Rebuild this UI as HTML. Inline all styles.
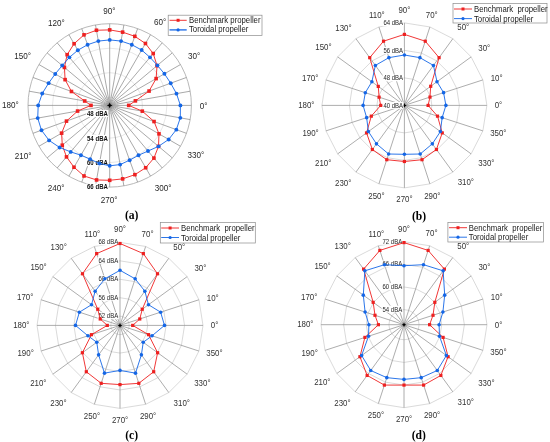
<!DOCTYPE html>
<html><head><meta charset="utf-8"><style>
html,body{margin:0;padding:0;background:#fff;width:550px;height:442px;overflow:hidden}
svg{display:block;font-family:"Liberation Sans",Arial,sans-serif}
</style></head><body>
<svg width="550" height="442" viewBox="0 0 550 442">
<rect width="550" height="442" fill="#fff"/>
<circle cx="109.7" cy="105.4" r="8.2" fill="none" stroke="#d8d8d8" stroke-width="0.6"/>
<circle cx="109.7" cy="105.4" r="32.7" fill="none" stroke="#dcdcdc" stroke-width="0.7"/>
<circle cx="109.7" cy="105.4" r="57.2" fill="none" stroke="#dcdcdc" stroke-width="0.7"/>
<circle cx="109.7" cy="105.4" r="81.7" fill="none" stroke="#a6a6a6" stroke-width="0.8"/>
<path d="M109.7 105.4L191.4 105.4M109.7 105.4L190.16 91.21M109.7 105.4L186.47 77.46M109.7 105.4L180.45 64.55M109.7 105.4L172.29 52.88M109.7 105.4L162.22 42.81M109.7 105.4L150.55 34.65M109.7 105.4L137.64 28.63M109.7 105.4L123.89 24.94M109.7 105.4L109.7 23.7M109.7 105.4L95.51 24.94M109.7 105.4L81.76 28.63M109.7 105.4L68.85 34.65M109.7 105.4L57.18 42.81M109.7 105.4L47.11 52.88M109.7 105.4L38.95 64.55M109.7 105.4L32.93 77.46M109.7 105.4L29.24 91.21M109.7 105.4L28 105.4M109.7 105.4L29.24 119.59M109.7 105.4L32.93 133.34M109.7 105.4L38.95 146.25M109.7 105.4L47.11 157.92M109.7 105.4L57.18 167.99M109.7 105.4L68.85 176.15M109.7 105.4L81.76 182.17M109.7 105.4L95.51 185.86M109.7 105.4L109.7 187.1M109.7 105.4L123.89 185.86M109.7 105.4L137.64 182.17M109.7 105.4L150.55 176.15M109.7 105.4L162.22 167.99M109.7 105.4L172.29 157.92M109.7 105.4L180.45 146.25M109.7 105.4L186.47 133.34M109.7 105.4L190.16 119.59" stroke="#8c8c8c" stroke-width="0.75" fill="none"/>
<path d="M109.7 102.6L110.6 104.5L112.5 105.4L110.6 106.3L109.7 108.2L108.8 106.3L106.9 105.4L108.8 104.5Z" fill="#000"/>
<rect x="86.2" y="110.1" width="22.2" height="7" fill="#fff"/>
<text x="107.9" y="115.88" text-anchor="end" font-size="6.9" font-weight="bold" fill="#111" textLength="20.9" lengthAdjust="spacingAndGlyphs">48 dBA</text>
<rect x="86.2" y="134.9" width="22.2" height="7" fill="#fff"/>
<text x="107.9" y="140.68" text-anchor="end" font-size="6.9" font-weight="bold" fill="#111" textLength="20.9" lengthAdjust="spacingAndGlyphs">54 dBA</text>
<rect x="86.2" y="159.2" width="22.2" height="7" fill="#fff"/>
<text x="107.9" y="164.98" text-anchor="end" font-size="6.9" font-weight="bold" fill="#111" textLength="20.9" lengthAdjust="spacingAndGlyphs">60 dBA</text>
<rect x="86.2" y="183.5" width="22.2" height="7" fill="#fff"/>
<text x="107.9" y="189.28" text-anchor="end" font-size="6.9" font-weight="bold" fill="#111" textLength="20.9" lengthAdjust="spacingAndGlyphs">66 dBA</text>
<path d="M128.7 105.4L135.4 100.87L149.07 91.07L156.12 78.6L157.04 65.68L153.22 53.54L145.45 43.48L134.84 36.33L122.62 32.13L109.7 29.9L96.45 30.26L84.01 34.83L74.1 43.74L67.15 54.69L64.43 67.41L65.1 79.65L71.45 91.48L84.69 100.99L91 105.4L77.6 111.06L66.47 121.13L61.64 133.15L62.28 145.19L66.5 156.88L74 167.23L84.01 175.97L96.55 179.95L109.7 180.3L122.65 178.87L134.91 174.66L145.7 167.75L153.92 158.1L158.5 146.35L158.98 133.85L154.05 121.54L142.3 111.15Z" fill="none" stroke="#ee2020" stroke-width="0.9" stroke-linejoin="round"/>
<rect x="126.9" y="103.6" width="3.6" height="3.6" fill="#ee2020"/>
<rect x="133.6" y="99.07" width="3.6" height="3.6" fill="#ee2020"/>
<rect x="147.27" y="89.27" width="3.6" height="3.6" fill="#ee2020"/>
<rect x="154.32" y="76.8" width="3.6" height="3.6" fill="#ee2020"/>
<rect x="155.24" y="63.88" width="3.6" height="3.6" fill="#ee2020"/>
<rect x="151.42" y="51.74" width="3.6" height="3.6" fill="#ee2020"/>
<rect x="143.65" y="41.68" width="3.6" height="3.6" fill="#ee2020"/>
<rect x="133.04" y="34.53" width="3.6" height="3.6" fill="#ee2020"/>
<rect x="120.82" y="30.33" width="3.6" height="3.6" fill="#ee2020"/>
<rect x="107.9" y="28.1" width="3.6" height="3.6" fill="#ee2020"/>
<rect x="94.65" y="28.46" width="3.6" height="3.6" fill="#ee2020"/>
<rect x="82.21" y="33.03" width="3.6" height="3.6" fill="#ee2020"/>
<rect x="72.3" y="41.94" width="3.6" height="3.6" fill="#ee2020"/>
<rect x="65.35" y="52.89" width="3.6" height="3.6" fill="#ee2020"/>
<rect x="62.63" y="65.61" width="3.6" height="3.6" fill="#ee2020"/>
<rect x="63.3" y="77.85" width="3.6" height="3.6" fill="#ee2020"/>
<rect x="69.65" y="89.68" width="3.6" height="3.6" fill="#ee2020"/>
<rect x="82.89" y="99.19" width="3.6" height="3.6" fill="#ee2020"/>
<rect x="89.2" y="103.6" width="3.6" height="3.6" fill="#ee2020"/>
<rect x="75.8" y="109.26" width="3.6" height="3.6" fill="#ee2020"/>
<rect x="64.67" y="119.33" width="3.6" height="3.6" fill="#ee2020"/>
<rect x="59.84" y="131.35" width="3.6" height="3.6" fill="#ee2020"/>
<rect x="60.48" y="143.39" width="3.6" height="3.6" fill="#ee2020"/>
<rect x="64.7" y="155.08" width="3.6" height="3.6" fill="#ee2020"/>
<rect x="72.2" y="165.43" width="3.6" height="3.6" fill="#ee2020"/>
<rect x="82.21" y="174.17" width="3.6" height="3.6" fill="#ee2020"/>
<rect x="94.75" y="178.15" width="3.6" height="3.6" fill="#ee2020"/>
<rect x="107.9" y="178.5" width="3.6" height="3.6" fill="#ee2020"/>
<rect x="120.85" y="177.07" width="3.6" height="3.6" fill="#ee2020"/>
<rect x="133.11" y="172.86" width="3.6" height="3.6" fill="#ee2020"/>
<rect x="143.9" y="165.95" width="3.6" height="3.6" fill="#ee2020"/>
<rect x="152.12" y="156.3" width="3.6" height="3.6" fill="#ee2020"/>
<rect x="156.7" y="144.55" width="3.6" height="3.6" fill="#ee2020"/>
<rect x="157.18" y="132.05" width="3.6" height="3.6" fill="#ee2020"/>
<rect x="152.25" y="119.74" width="3.6" height="3.6" fill="#ee2020"/>
<rect x="140.5" y="109.35" width="3.6" height="3.6" fill="#ee2020"/>
<path d="M180.4 105.4L176.47 93.63L170.69 83.2L164.43 73.8L157.42 65.35L150 57.37L141.65 50.06L131.79 44.7L121.04 41.09L109.7 39.9L98.36 41.09L87.61 44.7L77.85 50.23L69.4 57.37L62.21 65.55L55.23 73.95L48.62 83.17L42.24 93.51L38.2 105.4L37.71 118.09L41.48 130.23L49.08 140.4L59.6 147.44L70.68 151.9L80.95 155.2L90.14 159.15L99.45 163.5L109.7 165.8L120.14 164.59L129.64 160.18L138.5 155.28L148.01 151.06L158.5 146.35L168.68 139.45L176.32 129.65L180.31 117.85Z" fill="none" stroke="#1466e6" stroke-width="0.9" stroke-linejoin="round"/>
<circle cx="180.4" cy="105.4" r="1.95" fill="#1466e6"/>
<circle cx="176.47" cy="93.63" r="1.95" fill="#1466e6"/>
<circle cx="170.69" cy="83.2" r="1.95" fill="#1466e6"/>
<circle cx="164.43" cy="73.8" r="1.95" fill="#1466e6"/>
<circle cx="157.42" cy="65.35" r="1.95" fill="#1466e6"/>
<circle cx="150" cy="57.37" r="1.95" fill="#1466e6"/>
<circle cx="141.65" cy="50.06" r="1.95" fill="#1466e6"/>
<circle cx="131.79" cy="44.7" r="1.95" fill="#1466e6"/>
<circle cx="121.04" cy="41.09" r="1.95" fill="#1466e6"/>
<circle cx="109.7" cy="39.9" r="1.95" fill="#1466e6"/>
<circle cx="98.36" cy="41.09" r="1.95" fill="#1466e6"/>
<circle cx="87.61" cy="44.7" r="1.95" fill="#1466e6"/>
<circle cx="77.85" cy="50.23" r="1.95" fill="#1466e6"/>
<circle cx="69.4" cy="57.37" r="1.95" fill="#1466e6"/>
<circle cx="62.21" cy="65.55" r="1.95" fill="#1466e6"/>
<circle cx="55.23" cy="73.95" r="1.95" fill="#1466e6"/>
<circle cx="48.62" cy="83.17" r="1.95" fill="#1466e6"/>
<circle cx="42.24" cy="93.51" r="1.95" fill="#1466e6"/>
<circle cx="38.2" cy="105.4" r="1.95" fill="#1466e6"/>
<circle cx="37.71" cy="118.09" r="1.95" fill="#1466e6"/>
<circle cx="41.48" cy="130.23" r="1.95" fill="#1466e6"/>
<circle cx="49.08" cy="140.4" r="1.95" fill="#1466e6"/>
<circle cx="59.6" cy="147.44" r="1.95" fill="#1466e6"/>
<circle cx="70.68" cy="151.9" r="1.95" fill="#1466e6"/>
<circle cx="80.95" cy="155.2" r="1.95" fill="#1466e6"/>
<circle cx="90.14" cy="159.15" r="1.95" fill="#1466e6"/>
<circle cx="99.45" cy="163.5" r="1.95" fill="#1466e6"/>
<circle cx="109.7" cy="165.8" r="1.95" fill="#1466e6"/>
<circle cx="120.14" cy="164.59" r="1.95" fill="#1466e6"/>
<circle cx="129.64" cy="160.18" r="1.95" fill="#1466e6"/>
<circle cx="138.5" cy="155.28" r="1.95" fill="#1466e6"/>
<circle cx="148.01" cy="151.06" r="1.95" fill="#1466e6"/>
<circle cx="158.5" cy="146.35" r="1.95" fill="#1466e6"/>
<circle cx="168.68" cy="139.45" r="1.95" fill="#1466e6"/>
<circle cx="176.32" cy="129.65" r="1.95" fill="#1466e6"/>
<circle cx="180.31" cy="117.85" r="1.95" fill="#1466e6"/>
<text x="109.3" y="13.5" text-anchor="middle" font-size="8.9" fill="#262626" textLength="12.25" lengthAdjust="spacingAndGlyphs">90°</text>
<text x="160.2" y="25.3" text-anchor="middle" font-size="8.9" fill="#262626" textLength="12.25" lengthAdjust="spacingAndGlyphs">60°</text>
<text x="194" y="58.6" text-anchor="middle" font-size="8.9" fill="#262626" textLength="12.25" lengthAdjust="spacingAndGlyphs">30°</text>
<text x="203.6" y="108.6" text-anchor="middle" font-size="8.9" fill="#262626" textLength="7.74" lengthAdjust="spacingAndGlyphs">0°</text>
<text x="195.9" y="158.3" text-anchor="middle" font-size="8.9" fill="#262626" textLength="16.75" lengthAdjust="spacingAndGlyphs">330°</text>
<text x="163" y="191.3" text-anchor="middle" font-size="8.9" fill="#262626" textLength="16.75" lengthAdjust="spacingAndGlyphs">300°</text>
<text x="109" y="203.3" text-anchor="middle" font-size="8.9" fill="#262626" textLength="16.75" lengthAdjust="spacingAndGlyphs">270°</text>
<text x="56" y="191.3" text-anchor="middle" font-size="8.9" fill="#262626" textLength="16.75" lengthAdjust="spacingAndGlyphs">240°</text>
<text x="23.2" y="158.5" text-anchor="middle" font-size="8.9" fill="#262626" textLength="16.75" lengthAdjust="spacingAndGlyphs">210°</text>
<text x="10.4" y="108.3" text-anchor="middle" font-size="8.9" fill="#262626" textLength="16.75" lengthAdjust="spacingAndGlyphs">180°</text>
<text x="22.6" y="58.6" text-anchor="middle" font-size="8.9" fill="#262626" textLength="16.75" lengthAdjust="spacingAndGlyphs">150°</text>
<text x="56.4" y="25.6" text-anchor="middle" font-size="8.9" fill="#262626" textLength="16.75" lengthAdjust="spacingAndGlyphs">120°</text>
<rect x="168.2" y="15.2" width="93.8" height="20.4" fill="#fff" stroke="#8c8c8c" stroke-width="0.7"/>
<path d="M169.5 20.3H186.7" stroke="#ee2020" stroke-width="0.9"/>
<rect x="176.6" y="18.8" width="3" height="3" fill="#ee2020"/>
<path d="M169.5 29.9H186.7" stroke="#1466e6" stroke-width="1.3"/>
<circle cx="178.1" cy="29.9" r="1.6" fill="#1466e6"/>
<text x="189" y="22.79" font-size="9.0" fill="#1a1a1a" textLength="71.51" lengthAdjust="spacingAndGlyphs">Benchmark propeller</text>
<text x="189" y="32.39" font-size="9.0" fill="#1a1a1a" textLength="59.45" lengthAdjust="spacingAndGlyphs">Toroidal propeller</text>
<text x="131.7" y="218.9" text-anchor="middle" font-family="Liberation Serif, serif" font-weight="bold" font-size="11.6" fill="#000">(a)</text>
<polygon points="404.4,77.9 412.9,79.25 420.56,83.15 426.65,89.24 430.55,96.9 431.9,105.4 430.55,113.9 426.65,121.56 420.56,127.65 412.9,131.55 404.4,132.9 395.9,131.55 388.24,127.65 382.15,121.56 378.25,113.9 376.9,105.4 378.25,96.9 382.15,89.24 388.24,83.15 395.9,79.25" fill="none" stroke="#cdcdcd" stroke-width="0.75"/>
<polygon points="404.4,50.4 421.4,53.09 436.73,60.9 448.9,73.07 456.71,88.4 459.4,105.4 456.71,122.4 448.9,137.73 436.73,149.9 421.4,157.71 404.4,160.4 387.4,157.71 372.07,149.9 359.9,137.73 352.09,122.4 349.4,105.4 352.09,88.4 359.9,73.07 372.07,60.9 387.4,53.09" fill="none" stroke="#cdcdcd" stroke-width="0.75"/>
<polygon points="404.4,22.9 429.89,26.94 452.89,38.66 471.14,56.91 482.86,79.91 486.9,105.4 482.86,130.89 471.14,153.89 452.89,172.14 429.89,183.86 404.4,187.9 378.91,183.86 355.91,172.14 337.66,153.89 325.94,130.89 321.9,105.4 325.94,79.91 337.66,56.91 355.91,38.66 378.91,26.94" fill="none" stroke="#cdcdcd" stroke-width="0.75"/>
<path d="M404.4 105.4L404.4 22.9M404.4 105.4L429.89 26.94M404.4 105.4L452.89 38.66M404.4 105.4L471.14 56.91M404.4 105.4L482.86 79.91M404.4 105.4L486.9 105.4M404.4 105.4L482.86 130.89M404.4 105.4L471.14 153.89M404.4 105.4L452.89 172.14M404.4 105.4L429.89 183.86M404.4 105.4L404.4 187.9M404.4 105.4L378.91 183.86M404.4 105.4L355.91 172.14M404.4 105.4L337.66 153.89M404.4 105.4L325.94 130.89M404.4 105.4L321.9 105.4M404.4 105.4L325.94 79.91M404.4 105.4L337.66 56.91M404.4 105.4L355.91 38.66M404.4 105.4L378.91 26.94" stroke="#919191" stroke-width="0.75" fill="none"/>
<path d="M404.4 103.1L405.15 104.65L406.7 105.4L405.15 106.15L404.4 107.7L403.65 106.15L402.1 105.4L403.65 104.65Z" fill="#000"/>
<rect x="382.5" y="102" width="21.1" height="6.8" fill="#fff"/>
<text x="403.1" y="107.81" text-anchor="end" font-size="6.7" fill="#262626" textLength="19.7" lengthAdjust="spacingAndGlyphs">40 dBA</text>
<rect x="382.5" y="74.5" width="21.1" height="6.8" fill="#fff"/>
<text x="403.1" y="80.31" text-anchor="end" font-size="6.7" fill="#262626" textLength="19.7" lengthAdjust="spacingAndGlyphs">48 dBA</text>
<rect x="382.5" y="47" width="21.1" height="6.8" fill="#fff"/>
<text x="403.1" y="52.81" text-anchor="end" font-size="6.7" fill="#262626" textLength="19.7" lengthAdjust="spacingAndGlyphs">56 dBA</text>
<rect x="382.5" y="19.5" width="21.1" height="6.8" fill="#fff"/>
<text x="403.1" y="25.31" text-anchor="end" font-size="6.7" fill="#262626" textLength="19.7" lengthAdjust="spacingAndGlyphs">64 dBA</text>
<path d="M404.4 34.4L425.26 41.2L439.08 57.67L430.69 86.3L429.98 97.09L428.1 105.4L437.5 116.15L442.26 132.91L436.43 149.49L422.04 159.71L404.4 161.5L386.76 159.71L372.37 149.49L366.54 132.91L371.3 116.15L380.7 105.4L379.1 97.18L378.27 86.41L369.72 57.67L383.54 41.2Z" fill="none" stroke="#ee2020" stroke-width="0.9" stroke-linejoin="round"/>
<rect x="402.8" y="32.8" width="3.2" height="3.2" fill="#ee2020"/>
<rect x="423.66" y="39.6" width="3.2" height="3.2" fill="#ee2020"/>
<rect x="437.48" y="56.07" width="3.2" height="3.2" fill="#ee2020"/>
<rect x="429.09" y="84.7" width="3.2" height="3.2" fill="#ee2020"/>
<rect x="428.38" y="95.49" width="3.2" height="3.2" fill="#ee2020"/>
<rect x="426.5" y="103.8" width="3.2" height="3.2" fill="#ee2020"/>
<rect x="435.9" y="114.55" width="3.2" height="3.2" fill="#ee2020"/>
<rect x="440.66" y="131.31" width="3.2" height="3.2" fill="#ee2020"/>
<rect x="434.83" y="147.89" width="3.2" height="3.2" fill="#ee2020"/>
<rect x="420.44" y="158.11" width="3.2" height="3.2" fill="#ee2020"/>
<rect x="402.8" y="159.9" width="3.2" height="3.2" fill="#ee2020"/>
<rect x="385.16" y="158.11" width="3.2" height="3.2" fill="#ee2020"/>
<rect x="370.77" y="147.89" width="3.2" height="3.2" fill="#ee2020"/>
<rect x="364.94" y="131.31" width="3.2" height="3.2" fill="#ee2020"/>
<rect x="369.7" y="114.55" width="3.2" height="3.2" fill="#ee2020"/>
<rect x="379.1" y="103.8" width="3.2" height="3.2" fill="#ee2020"/>
<rect x="377.5" y="95.58" width="3.2" height="3.2" fill="#ee2020"/>
<rect x="376.67" y="84.81" width="3.2" height="3.2" fill="#ee2020"/>
<rect x="368.12" y="56.07" width="3.2" height="3.2" fill="#ee2020"/>
<rect x="381.94" y="39.6" width="3.2" height="3.2" fill="#ee2020"/>
<path d="M404.4 55L419.91 57.66L433.44 65.43L437 81.71L443.58 92.67L445.9 105.4L442.16 117.67L440.4 131.56L432.32 143.83L420.19 154L404.4 154.3L388.61 154L376.48 143.83L368.4 131.56L366.64 117.67L363.1 105.4L365.31 92.7L371.88 81.77L375.36 65.43L388.89 57.66Z" fill="none" stroke="#1466e6" stroke-width="0.9" stroke-linejoin="round"/>
<circle cx="404.4" cy="55" r="1.8" fill="#1466e6"/>
<circle cx="419.91" cy="57.66" r="1.8" fill="#1466e6"/>
<circle cx="433.44" cy="65.43" r="1.8" fill="#1466e6"/>
<circle cx="437" cy="81.71" r="1.8" fill="#1466e6"/>
<circle cx="443.58" cy="92.67" r="1.8" fill="#1466e6"/>
<circle cx="445.9" cy="105.4" r="1.8" fill="#1466e6"/>
<circle cx="442.16" cy="117.67" r="1.8" fill="#1466e6"/>
<circle cx="440.4" cy="131.56" r="1.8" fill="#1466e6"/>
<circle cx="432.32" cy="143.83" r="1.8" fill="#1466e6"/>
<circle cx="420.19" cy="154" r="1.8" fill="#1466e6"/>
<circle cx="404.4" cy="154.3" r="1.8" fill="#1466e6"/>
<circle cx="388.61" cy="154" r="1.8" fill="#1466e6"/>
<circle cx="376.48" cy="143.83" r="1.8" fill="#1466e6"/>
<circle cx="368.4" cy="131.56" r="1.8" fill="#1466e6"/>
<circle cx="366.64" cy="117.67" r="1.8" fill="#1466e6"/>
<circle cx="363.1" cy="105.4" r="1.8" fill="#1466e6"/>
<circle cx="365.31" cy="92.7" r="1.8" fill="#1466e6"/>
<circle cx="371.88" cy="81.77" r="1.8" fill="#1466e6"/>
<circle cx="375.36" cy="65.43" r="1.8" fill="#1466e6"/>
<circle cx="388.89" cy="57.66" r="1.8" fill="#1466e6"/>
<text x="404.4" y="12.91" text-anchor="middle" font-size="8.9" fill="#333333" textLength="11.95" lengthAdjust="spacingAndGlyphs">90°</text>
<text x="431.8" y="17.61" text-anchor="middle" font-size="8.9" fill="#333333" textLength="11.95" lengthAdjust="spacingAndGlyphs">70°</text>
<text x="463.3" y="30.31" text-anchor="middle" font-size="8.9" fill="#333333" textLength="11.95" lengthAdjust="spacingAndGlyphs">50°</text>
<text x="484.3" y="51.11" text-anchor="middle" font-size="8.9" fill="#333333" textLength="11.95" lengthAdjust="spacingAndGlyphs">30°</text>
<text x="496.6" y="81.01" text-anchor="middle" font-size="8.9" fill="#333333" textLength="11.95" lengthAdjust="spacingAndGlyphs">10°</text>
<text x="498.4" y="108.41" text-anchor="middle" font-size="8.9" fill="#333333" textLength="7.55" lengthAdjust="spacingAndGlyphs">0°</text>
<text x="498.3" y="135.71" text-anchor="middle" font-size="8.9" fill="#333333" textLength="16.34" lengthAdjust="spacingAndGlyphs">350°</text>
<text x="486.3" y="166.11" text-anchor="middle" font-size="8.9" fill="#333333" textLength="16.34" lengthAdjust="spacingAndGlyphs">330°</text>
<text x="465.8" y="185.11" text-anchor="middle" font-size="8.9" fill="#333333" textLength="16.34" lengthAdjust="spacingAndGlyphs">310°</text>
<text x="432.3" y="198.51" text-anchor="middle" font-size="8.9" fill="#333333" textLength="16.34" lengthAdjust="spacingAndGlyphs">290°</text>
<text x="404.5" y="202.31" text-anchor="middle" font-size="8.9" fill="#333333" textLength="16.34" lengthAdjust="spacingAndGlyphs">270°</text>
<text x="376.5" y="198.51" text-anchor="middle" font-size="8.9" fill="#333333" textLength="16.34" lengthAdjust="spacingAndGlyphs">250°</text>
<text x="343.2" y="185.91" text-anchor="middle" font-size="8.9" fill="#333333" textLength="16.34" lengthAdjust="spacingAndGlyphs">230°</text>
<text x="323.2" y="165.81" text-anchor="middle" font-size="8.9" fill="#333333" textLength="16.34" lengthAdjust="spacingAndGlyphs">210°</text>
<text x="310.6" y="136.31" text-anchor="middle" font-size="8.9" fill="#333333" textLength="16.34" lengthAdjust="spacingAndGlyphs">190°</text>
<text x="306.3" y="108.11" text-anchor="middle" font-size="8.9" fill="#333333" textLength="16.34" lengthAdjust="spacingAndGlyphs">180°</text>
<text x="310.2" y="80.51" text-anchor="middle" font-size="8.9" fill="#333333" textLength="16.34" lengthAdjust="spacingAndGlyphs">170°</text>
<text x="323.5" y="50.21" text-anchor="middle" font-size="8.9" fill="#333333" textLength="16.34" lengthAdjust="spacingAndGlyphs">150°</text>
<text x="343.5" y="30.51" text-anchor="middle" font-size="8.9" fill="#333333" textLength="16.34" lengthAdjust="spacingAndGlyphs">130°</text>
<text x="376.9" y="17.91" text-anchor="middle" font-size="8.9" fill="#333333" textLength="15.75" lengthAdjust="spacingAndGlyphs">110°</text>
<rect x="453" y="3.6" width="94" height="19.4" fill="#fff" stroke="#8c8c8c" stroke-width="0.7"/>
<path d="M454 9H472" stroke="#ee2020" stroke-width="0.9"/>
<rect x="461.5" y="7.5" width="3" height="3" fill="#ee2020"/>
<path d="M454 18.6H472" stroke="#1466e6" stroke-width="0.9"/>
<circle cx="463" cy="18.6" r="1.6" fill="#1466e6"/>
<text x="474" y="12.09" font-size="9.0" fill="#1a1a1a" textLength="73.66" lengthAdjust="spacingAndGlyphs" xml:space="preserve">Benchmark  propeller</text>
<text x="474" y="21.69" font-size="9.0" fill="#1a1a1a" textLength="59.45" lengthAdjust="spacingAndGlyphs">Toroidal propeller</text>
<text x="419" y="219.6" text-anchor="middle" font-family="Liberation Serif, serif" font-weight="bold" font-size="11.6" fill="#000">(b)</text>
<polygon points="120,316.18 122.85,316.63 125.42,317.94 127.46,319.98 128.77,322.55 129.22,325.4 128.77,328.25 127.46,330.82 125.42,332.86 122.85,334.17 120,334.62 117.15,334.17 114.58,332.86 112.54,330.82 111.23,328.25 110.78,325.4 111.23,322.55 112.54,319.98 114.58,317.94 117.15,316.63" fill="none" stroke="#cdcdcd" stroke-width="0.75"/>
<polygon points="120,297.73 128.55,299.09 136.26,303.02 142.38,309.14 146.31,316.85 147.67,325.4 146.31,333.95 142.38,341.66 136.26,347.78 128.55,351.71 120,353.07 111.45,351.71 103.74,347.78 97.62,341.66 93.69,333.95 92.33,325.4 93.69,316.85 97.62,309.14 103.74,303.02 111.45,299.09" fill="none" stroke="#cdcdcd" stroke-width="0.75"/>
<polygon points="120,279.29 134.25,281.55 147.1,288.1 157.3,298.3 163.85,311.15 166.11,325.4 163.85,339.65 157.3,352.5 147.1,362.7 134.25,369.25 120,371.51 105.75,369.25 92.9,362.7 82.7,352.5 76.15,339.65 73.89,325.4 76.15,311.15 82.7,298.3 92.9,288.1 105.75,281.55" fill="none" stroke="#cdcdcd" stroke-width="0.75"/>
<polygon points="120,260.84 139.95,264 157.94,273.17 172.23,287.46 181.4,305.45 184.56,325.4 181.4,345.35 172.23,363.34 157.94,377.63 139.95,386.8 120,389.96 100.05,386.8 82.06,377.63 67.77,363.34 58.6,345.35 55.44,325.4 58.6,305.45 67.77,287.46 82.06,273.17 100.05,264" fill="none" stroke="#cdcdcd" stroke-width="0.75"/>
<polygon points="120,242.4 145.65,246.46 168.79,258.25 187.15,276.61 198.94,299.75 203,325.4 198.94,351.05 187.15,374.19 168.79,392.55 145.65,404.34 120,408.4 94.35,404.34 71.21,392.55 52.85,374.19 41.06,351.05 37,325.4 41.06,299.75 52.85,276.61 71.21,258.25 94.35,246.46" fill="none" stroke="#cdcdcd" stroke-width="0.75"/>
<path d="M120 325.4L120 242.4M120 325.4L145.65 246.46M120 325.4L168.79 258.25M120 325.4L187.15 276.61M120 325.4L198.94 299.75M120 325.4L203 325.4M120 325.4L198.94 351.05M120 325.4L187.15 374.19M120 325.4L168.79 392.55M120 325.4L145.65 404.34M120 325.4L120 408.4M120 325.4L94.35 404.34M120 325.4L71.21 392.55M120 325.4L52.85 374.19M120 325.4L41.06 351.05M120 325.4L37 325.4M120 325.4L41.06 299.75M120 325.4L52.85 276.61M120 325.4L71.21 258.25M120 325.4L94.35 246.46" stroke="#919191" stroke-width="0.75" fill="none"/>
<path d="M120 323.1L120.75 324.65L122.3 325.4L120.75 326.15L120 327.7L119.25 326.15L117.7 325.4L119.25 324.65Z" fill="#000"/>
<rect x="97.6" y="312.28" width="21.1" height="6.8" fill="#fff"/>
<text x="118.2" y="318.09" text-anchor="end" font-size="6.7" fill="#262626" textLength="19.7" lengthAdjust="spacingAndGlyphs">52 dBA</text>
<rect x="97.6" y="293.83" width="21.1" height="6.8" fill="#fff"/>
<text x="118.2" y="299.65" text-anchor="end" font-size="6.7" fill="#262626" textLength="19.7" lengthAdjust="spacingAndGlyphs">56 dBA</text>
<rect x="97.6" y="275.39" width="21.1" height="6.8" fill="#fff"/>
<text x="118.2" y="281.2" text-anchor="end" font-size="6.7" fill="#262626" textLength="19.7" lengthAdjust="spacingAndGlyphs">60 dBA</text>
<rect x="97.6" y="256.94" width="21.1" height="6.8" fill="#fff"/>
<text x="118.2" y="262.76" text-anchor="end" font-size="6.7" fill="#262626" textLength="19.7" lengthAdjust="spacingAndGlyphs">64 dBA</text>
<rect x="97.6" y="238.5" width="21.1" height="6.8" fill="#fff"/>
<text x="118.2" y="244.31" text-anchor="end" font-size="6.7" fill="#262626" textLength="19.7" lengthAdjust="spacingAndGlyphs">68 dBA</text>
<path d="M120 243.5L143.33 253.6L157.5 273.78L142.25 309.24L139.78 318.97L132.7 325.4L148.53 334.67L157.62 352.73L153.68 371.76L138.82 383.32L120 384.6L101.18 383.32L86.32 371.76L82.38 352.73L91.47 334.67L107.3 325.4L100.22 318.97L97.75 309.24L82.5 273.78L96.67 253.6Z" fill="none" stroke="#ee2020" stroke-width="0.9" stroke-linejoin="round"/>
<rect x="118.4" y="241.9" width="3.2" height="3.2" fill="#ee2020"/>
<rect x="141.73" y="252" width="3.2" height="3.2" fill="#ee2020"/>
<rect x="155.9" y="272.18" width="3.2" height="3.2" fill="#ee2020"/>
<rect x="140.65" y="307.64" width="3.2" height="3.2" fill="#ee2020"/>
<rect x="138.18" y="317.37" width="3.2" height="3.2" fill="#ee2020"/>
<rect x="131.1" y="323.8" width="3.2" height="3.2" fill="#ee2020"/>
<rect x="146.93" y="333.07" width="3.2" height="3.2" fill="#ee2020"/>
<rect x="156.02" y="351.13" width="3.2" height="3.2" fill="#ee2020"/>
<rect x="152.08" y="370.16" width="3.2" height="3.2" fill="#ee2020"/>
<rect x="137.22" y="381.72" width="3.2" height="3.2" fill="#ee2020"/>
<rect x="118.4" y="383" width="3.2" height="3.2" fill="#ee2020"/>
<rect x="99.58" y="381.72" width="3.2" height="3.2" fill="#ee2020"/>
<rect x="84.72" y="370.16" width="3.2" height="3.2" fill="#ee2020"/>
<rect x="80.78" y="351.13" width="3.2" height="3.2" fill="#ee2020"/>
<rect x="89.87" y="333.07" width="3.2" height="3.2" fill="#ee2020"/>
<rect x="105.7" y="323.8" width="3.2" height="3.2" fill="#ee2020"/>
<rect x="98.62" y="317.37" width="3.2" height="3.2" fill="#ee2020"/>
<rect x="96.15" y="307.64" width="3.2" height="3.2" fill="#ee2020"/>
<rect x="80.9" y="272.18" width="3.2" height="3.2" fill="#ee2020"/>
<rect x="95.07" y="252" width="3.2" height="3.2" fill="#ee2020"/>
<path d="M120 270.3L135.14 278.8L144.86 291.18L148.48 304.71L160.61 312.2L164.5 325.4L152.05 335.81L143.22 342.27L141.4 354.85L135.51 373.14L120 370.4L104.49 373.14L98.6 354.85L96.78 342.27L87.95 335.81L75.5 325.4L79.39 312.2L91.52 304.71L95.14 291.18L104.86 278.8Z" fill="none" stroke="#1466e6" stroke-width="0.9" stroke-linejoin="round"/>
<circle cx="120" cy="270.3" r="1.8" fill="#1466e6"/>
<circle cx="135.14" cy="278.8" r="1.8" fill="#1466e6"/>
<circle cx="144.86" cy="291.18" r="1.8" fill="#1466e6"/>
<circle cx="148.48" cy="304.71" r="1.8" fill="#1466e6"/>
<circle cx="160.61" cy="312.2" r="1.8" fill="#1466e6"/>
<circle cx="164.5" cy="325.4" r="1.8" fill="#1466e6"/>
<circle cx="152.05" cy="335.81" r="1.8" fill="#1466e6"/>
<circle cx="143.22" cy="342.27" r="1.8" fill="#1466e6"/>
<circle cx="141.4" cy="354.85" r="1.8" fill="#1466e6"/>
<circle cx="135.51" cy="373.14" r="1.8" fill="#1466e6"/>
<circle cx="120" cy="370.4" r="1.8" fill="#1466e6"/>
<circle cx="104.49" cy="373.14" r="1.8" fill="#1466e6"/>
<circle cx="98.6" cy="354.85" r="1.8" fill="#1466e6"/>
<circle cx="96.78" cy="342.27" r="1.8" fill="#1466e6"/>
<circle cx="87.95" cy="335.81" r="1.8" fill="#1466e6"/>
<circle cx="75.5" cy="325.4" r="1.8" fill="#1466e6"/>
<circle cx="79.39" cy="312.2" r="1.8" fill="#1466e6"/>
<circle cx="91.52" cy="304.71" r="1.8" fill="#1466e6"/>
<circle cx="95.14" cy="291.18" r="1.8" fill="#1466e6"/>
<circle cx="104.86" cy="278.8" r="1.8" fill="#1466e6"/>
<text x="120" y="232.33" text-anchor="middle" font-size="8.9" fill="#333333" textLength="11.95" lengthAdjust="spacingAndGlyphs">90°</text>
<text x="147.57" y="237.06" text-anchor="middle" font-size="8.9" fill="#333333" textLength="11.95" lengthAdjust="spacingAndGlyphs">70°</text>
<text x="179.26" y="249.84" text-anchor="middle" font-size="8.9" fill="#333333" textLength="11.95" lengthAdjust="spacingAndGlyphs">50°</text>
<text x="200.38" y="270.76" text-anchor="middle" font-size="8.9" fill="#333333" textLength="11.95" lengthAdjust="spacingAndGlyphs">30°</text>
<text x="212.76" y="300.84" text-anchor="middle" font-size="8.9" fill="#333333" textLength="11.95" lengthAdjust="spacingAndGlyphs">10°</text>
<text x="214.57" y="328.41" text-anchor="middle" font-size="8.9" fill="#333333" textLength="7.55" lengthAdjust="spacingAndGlyphs">0°</text>
<text x="214.47" y="355.87" text-anchor="middle" font-size="8.9" fill="#333333" textLength="16.34" lengthAdjust="spacingAndGlyphs">350°</text>
<text x="202.4" y="386.46" text-anchor="middle" font-size="8.9" fill="#333333" textLength="16.34" lengthAdjust="spacingAndGlyphs">330°</text>
<text x="181.77" y="405.57" text-anchor="middle" font-size="8.9" fill="#333333" textLength="16.34" lengthAdjust="spacingAndGlyphs">310°</text>
<text x="148.07" y="419.06" text-anchor="middle" font-size="8.9" fill="#333333" textLength="16.34" lengthAdjust="spacingAndGlyphs">290°</text>
<text x="120.1" y="422.88" text-anchor="middle" font-size="8.9" fill="#333333" textLength="16.34" lengthAdjust="spacingAndGlyphs">270°</text>
<text x="91.93" y="419.06" text-anchor="middle" font-size="8.9" fill="#333333" textLength="16.34" lengthAdjust="spacingAndGlyphs">250°</text>
<text x="58.43" y="406.38" text-anchor="middle" font-size="8.9" fill="#333333" textLength="16.34" lengthAdjust="spacingAndGlyphs">230°</text>
<text x="38.31" y="386.16" text-anchor="middle" font-size="8.9" fill="#333333" textLength="16.34" lengthAdjust="spacingAndGlyphs">210°</text>
<text x="25.63" y="356.48" text-anchor="middle" font-size="8.9" fill="#333333" textLength="16.34" lengthAdjust="spacingAndGlyphs">190°</text>
<text x="21.31" y="328.11" text-anchor="middle" font-size="8.9" fill="#333333" textLength="16.34" lengthAdjust="spacingAndGlyphs">180°</text>
<text x="25.23" y="300.34" text-anchor="middle" font-size="8.9" fill="#333333" textLength="16.34" lengthAdjust="spacingAndGlyphs">170°</text>
<text x="38.61" y="269.86" text-anchor="middle" font-size="8.9" fill="#333333" textLength="16.34" lengthAdjust="spacingAndGlyphs">150°</text>
<text x="58.73" y="250.04" text-anchor="middle" font-size="8.9" fill="#333333" textLength="16.34" lengthAdjust="spacingAndGlyphs">130°</text>
<text x="92.33" y="237.36" text-anchor="middle" font-size="8.9" fill="#333333" textLength="15.75" lengthAdjust="spacingAndGlyphs">110°</text>
<rect x="160.3" y="222.5" width="95" height="20.5" fill="#fff" stroke="#8c8c8c" stroke-width="0.7"/>
<path d="M161.2 228.0H179.0" stroke="#ee2020" stroke-width="0.9"/>
<rect x="168.6" y="226.5" width="3" height="3" fill="#ee2020"/>
<path d="M161.2 237.5H179.0" stroke="#1466e6" stroke-width="0.9"/>
<circle cx="170.1" cy="237.5" r="1.6" fill="#1466e6"/>
<text x="181" y="231.09" font-size="9.0" fill="#1a1a1a" textLength="73.66" lengthAdjust="spacingAndGlyphs" xml:space="preserve">Benchmark  propeller</text>
<text x="181" y="240.59" font-size="9.0" fill="#1a1a1a" textLength="59.45" lengthAdjust="spacingAndGlyphs">Toroidal propeller</text>
<text x="131.6" y="439.2" text-anchor="middle" font-family="Liberation Serif, serif" font-weight="bold" font-size="11.6" fill="#000">(c)</text>
<polygon points="404,309.61 408.66,310.35 412.87,312.49 416.21,315.83 418.35,320.04 419.09,324.7 418.35,329.36 416.21,333.57 412.87,336.91 408.66,339.05 404,339.79 399.34,339.05 395.13,336.91 391.79,333.57 389.65,329.36 388.91,324.7 389.65,320.04 391.79,315.83 395.13,312.49 399.34,310.35" fill="none" stroke="#cdcdcd" stroke-width="0.75"/>
<polygon points="404,286.97 415.66,288.82 426.18,294.18 434.52,302.52 439.88,313.04 441.73,324.7 439.88,336.36 434.52,346.88 426.18,355.22 415.66,360.58 404,362.43 392.34,360.58 381.82,355.22 373.48,346.88 368.12,336.36 366.27,324.7 368.12,313.04 373.48,302.52 381.82,294.18 392.34,288.82" fill="none" stroke="#cdcdcd" stroke-width="0.75"/>
<polygon points="404,264.34 422.65,267.29 439.48,275.86 452.84,289.22 461.41,306.05 464.36,324.7 461.41,343.35 452.84,360.18 439.48,373.54 422.65,382.11 404,385.06 385.35,382.11 368.52,373.54 355.16,360.18 346.59,343.35 343.64,324.7 346.59,306.05 355.16,289.22 368.52,275.86 385.35,267.29" fill="none" stroke="#cdcdcd" stroke-width="0.75"/>
<polygon points="404,241.7 429.65,245.76 452.79,257.55 471.15,275.91 482.94,299.05 487,324.7 482.94,350.35 471.15,373.49 452.79,391.85 429.65,403.64 404,407.7 378.35,403.64 355.21,391.85 336.85,373.49 325.06,350.35 321,324.7 325.06,299.05 336.85,275.91 355.21,257.55 378.35,245.76" fill="none" stroke="#cdcdcd" stroke-width="0.75"/>
<path d="M404 324.7L404 241.7M404 324.7L429.65 245.76M404 324.7L452.79 257.55M404 324.7L471.15 275.91M404 324.7L482.94 299.05M404 324.7L487 324.7M404 324.7L482.94 350.35M404 324.7L471.15 373.49M404 324.7L452.79 391.85M404 324.7L429.65 403.64M404 324.7L404 407.7M404 324.7L378.35 403.64M404 324.7L355.21 391.85M404 324.7L336.85 373.49M404 324.7L325.06 350.35M404 324.7L321 324.7M404 324.7L325.06 299.05M404 324.7L336.85 275.91M404 324.7L355.21 257.55M404 324.7L378.35 245.76" stroke="#919191" stroke-width="0.75" fill="none"/>
<path d="M404 322.4L404.75 323.95L406.3 324.7L404.75 325.45L404 327L403.25 325.45L401.7 324.7L403.25 323.95Z" fill="#000"/>
<rect x="381.6" y="305.71" width="21.1" height="6.8" fill="#fff"/>
<text x="402.2" y="311.52" text-anchor="end" font-size="6.7" fill="#262626" textLength="19.7" lengthAdjust="spacingAndGlyphs">54 dBA</text>
<rect x="381.6" y="283.07" width="21.1" height="6.8" fill="#fff"/>
<text x="402.2" y="288.88" text-anchor="end" font-size="6.7" fill="#262626" textLength="19.7" lengthAdjust="spacingAndGlyphs">60 dBA</text>
<rect x="381.6" y="260.44" width="21.1" height="6.8" fill="#fff"/>
<text x="402.2" y="266.25" text-anchor="end" font-size="6.7" fill="#262626" textLength="19.7" lengthAdjust="spacingAndGlyphs">66 dBA</text>
<rect x="381.6" y="237.8" width="21.1" height="6.8" fill="#fff"/>
<text x="402.2" y="243.61" text-anchor="end" font-size="6.7" fill="#262626" textLength="19.7" lengthAdjust="spacingAndGlyphs">72 dBA</text>
<path d="M404 242.6L428.13 250.42L444.38 269.12L434.82 302.31L433.01 315.27L429.6 324.7L443.09 337.4L448.09 356.73L440.85 375.43L423.62 385.09L404 385.1L384.38 385.09L367.15 375.43L359.91 356.73L364.91 337.4L378.4 324.7L374.99 315.27L373.18 302.31L363.62 269.12L379.87 250.42Z" fill="none" stroke="#ee2020" stroke-width="0.9" stroke-linejoin="round"/>
<rect x="402.4" y="241" width="3.2" height="3.2" fill="#ee2020"/>
<rect x="426.53" y="248.82" width="3.2" height="3.2" fill="#ee2020"/>
<rect x="442.78" y="267.52" width="3.2" height="3.2" fill="#ee2020"/>
<rect x="433.22" y="300.71" width="3.2" height="3.2" fill="#ee2020"/>
<rect x="431.41" y="313.67" width="3.2" height="3.2" fill="#ee2020"/>
<rect x="428" y="323.1" width="3.2" height="3.2" fill="#ee2020"/>
<rect x="441.49" y="335.8" width="3.2" height="3.2" fill="#ee2020"/>
<rect x="446.49" y="355.13" width="3.2" height="3.2" fill="#ee2020"/>
<rect x="439.25" y="373.83" width="3.2" height="3.2" fill="#ee2020"/>
<rect x="422.02" y="383.49" width="3.2" height="3.2" fill="#ee2020"/>
<rect x="402.4" y="383.5" width="3.2" height="3.2" fill="#ee2020"/>
<rect x="382.78" y="383.49" width="3.2" height="3.2" fill="#ee2020"/>
<rect x="365.55" y="373.83" width="3.2" height="3.2" fill="#ee2020"/>
<rect x="358.31" y="355.13" width="3.2" height="3.2" fill="#ee2020"/>
<rect x="363.31" y="335.8" width="3.2" height="3.2" fill="#ee2020"/>
<rect x="376.8" y="323.1" width="3.2" height="3.2" fill="#ee2020"/>
<rect x="373.39" y="313.67" width="3.2" height="3.2" fill="#ee2020"/>
<rect x="371.58" y="300.71" width="3.2" height="3.2" fill="#ee2020"/>
<rect x="362.02" y="267.52" width="3.2" height="3.2" fill="#ee2020"/>
<rect x="378.27" y="248.82" width="3.2" height="3.2" fill="#ee2020"/>
<path d="M404 265.7L423.5 264.69L443.15 270.82L444.69 295.13L442.9 312.06L439.1 324.7L439.47 336.23L446.39 355.5L437.27 370.49L421.21 377.67L404 379.4L386.79 377.67L370.73 370.49L361.61 355.5L368.53 336.23L368.9 324.7L365.1 312.06L363.31 295.13L364.85 270.82L384.5 264.69Z" fill="none" stroke="#1466e6" stroke-width="0.9" stroke-linejoin="round"/>
<circle cx="404" cy="265.7" r="1.8" fill="#1466e6"/>
<circle cx="423.5" cy="264.69" r="1.8" fill="#1466e6"/>
<circle cx="443.15" cy="270.82" r="1.8" fill="#1466e6"/>
<circle cx="444.69" cy="295.13" r="1.8" fill="#1466e6"/>
<circle cx="442.9" cy="312.06" r="1.8" fill="#1466e6"/>
<circle cx="439.1" cy="324.7" r="1.8" fill="#1466e6"/>
<circle cx="439.47" cy="336.23" r="1.8" fill="#1466e6"/>
<circle cx="446.39" cy="355.5" r="1.8" fill="#1466e6"/>
<circle cx="437.27" cy="370.49" r="1.8" fill="#1466e6"/>
<circle cx="421.21" cy="377.67" r="1.8" fill="#1466e6"/>
<circle cx="404" cy="379.4" r="1.8" fill="#1466e6"/>
<circle cx="386.79" cy="377.67" r="1.8" fill="#1466e6"/>
<circle cx="370.73" cy="370.49" r="1.8" fill="#1466e6"/>
<circle cx="361.61" cy="355.5" r="1.8" fill="#1466e6"/>
<circle cx="368.53" cy="336.23" r="1.8" fill="#1466e6"/>
<circle cx="368.9" cy="324.7" r="1.8" fill="#1466e6"/>
<circle cx="365.1" cy="312.06" r="1.8" fill="#1466e6"/>
<circle cx="363.31" cy="295.13" r="1.8" fill="#1466e6"/>
<circle cx="364.85" cy="270.82" r="1.8" fill="#1466e6"/>
<circle cx="384.5" cy="264.69" r="1.8" fill="#1466e6"/>
<text x="404" y="231.63" text-anchor="middle" font-size="8.9" fill="#333333" textLength="11.95" lengthAdjust="spacingAndGlyphs">90°</text>
<text x="431.57" y="236.36" text-anchor="middle" font-size="8.9" fill="#333333" textLength="11.95" lengthAdjust="spacingAndGlyphs">70°</text>
<text x="463.26" y="249.14" text-anchor="middle" font-size="8.9" fill="#333333" textLength="11.95" lengthAdjust="spacingAndGlyphs">50°</text>
<text x="484.38" y="270.06" text-anchor="middle" font-size="8.9" fill="#333333" textLength="11.95" lengthAdjust="spacingAndGlyphs">30°</text>
<text x="496.76" y="300.14" text-anchor="middle" font-size="8.9" fill="#333333" textLength="11.95" lengthAdjust="spacingAndGlyphs">10°</text>
<text x="498.57" y="327.71" text-anchor="middle" font-size="8.9" fill="#333333" textLength="7.55" lengthAdjust="spacingAndGlyphs">0°</text>
<text x="498.47" y="355.17" text-anchor="middle" font-size="8.9" fill="#333333" textLength="16.34" lengthAdjust="spacingAndGlyphs">350°</text>
<text x="486.4" y="385.76" text-anchor="middle" font-size="8.9" fill="#333333" textLength="16.34" lengthAdjust="spacingAndGlyphs">330°</text>
<text x="465.77" y="404.87" text-anchor="middle" font-size="8.9" fill="#333333" textLength="16.34" lengthAdjust="spacingAndGlyphs">310°</text>
<text x="432.07" y="418.36" text-anchor="middle" font-size="8.9" fill="#333333" textLength="16.34" lengthAdjust="spacingAndGlyphs">290°</text>
<text x="404.1" y="422.18" text-anchor="middle" font-size="8.9" fill="#333333" textLength="16.34" lengthAdjust="spacingAndGlyphs">270°</text>
<text x="375.93" y="418.36" text-anchor="middle" font-size="8.9" fill="#333333" textLength="16.34" lengthAdjust="spacingAndGlyphs">250°</text>
<text x="342.43" y="405.68" text-anchor="middle" font-size="8.9" fill="#333333" textLength="16.34" lengthAdjust="spacingAndGlyphs">230°</text>
<text x="322.31" y="385.46" text-anchor="middle" font-size="8.9" fill="#333333" textLength="16.34" lengthAdjust="spacingAndGlyphs">210°</text>
<text x="309.63" y="355.78" text-anchor="middle" font-size="8.9" fill="#333333" textLength="16.34" lengthAdjust="spacingAndGlyphs">190°</text>
<text x="305.31" y="327.41" text-anchor="middle" font-size="8.9" fill="#333333" textLength="16.34" lengthAdjust="spacingAndGlyphs">180°</text>
<text x="309.23" y="299.64" text-anchor="middle" font-size="8.9" fill="#333333" textLength="16.34" lengthAdjust="spacingAndGlyphs">170°</text>
<text x="322.61" y="269.16" text-anchor="middle" font-size="8.9" fill="#333333" textLength="16.34" lengthAdjust="spacingAndGlyphs">150°</text>
<text x="342.73" y="249.34" text-anchor="middle" font-size="8.9" fill="#333333" textLength="16.34" lengthAdjust="spacingAndGlyphs">130°</text>
<text x="376.33" y="236.66" text-anchor="middle" font-size="8.9" fill="#333333" textLength="15.75" lengthAdjust="spacingAndGlyphs">110°</text>
<rect x="447.9" y="222.6" width="95.6" height="19.4" fill="#fff" stroke="#8c8c8c" stroke-width="0.7"/>
<path d="M449.0 227.7H467.0" stroke="#ee2020" stroke-width="0.9"/>
<rect x="456.5" y="226.2" width="3" height="3" fill="#ee2020"/>
<path d="M449.0 237.2H467.0" stroke="#1466e6" stroke-width="0.9"/>
<circle cx="458" cy="237.2" r="1.6" fill="#1466e6"/>
<text x="468.8" y="230.79" font-size="9.0" fill="#1a1a1a" textLength="73.66" lengthAdjust="spacingAndGlyphs" xml:space="preserve">Benchmark  propeller</text>
<text x="468.8" y="240.29" font-size="9.0" fill="#1a1a1a" textLength="59.45" lengthAdjust="spacingAndGlyphs">Toroidal propeller</text>
<text x="418.8" y="439.2" text-anchor="middle" font-family="Liberation Serif, serif" font-weight="bold" font-size="11.6" fill="#000">(d)</text>
</svg>
</body></html>
